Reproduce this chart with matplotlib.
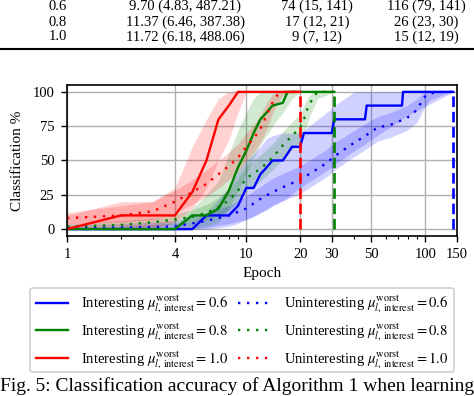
import matplotlib
matplotlib.use("Agg")
import matplotlib.pyplot as plt
from matplotlib.lines import Line2D
from matplotlib.patches import FancyBboxPatch
from matplotlib.ticker import FixedLocator, FixedFormatter, NullFormatter, LogLocator

plt.rcParams['font.family'] = ['Liberation Serif', 'DejaVu Serif']
plt.rcParams['mathtext.fontset'] = 'stix'

# ---------------- data ----------------
table_rows = [
    ["0.6", "9.70 (4.83, 487.21)", "74 (15, 141)", "116 (79, 141)"],
    ["0.8", "11.37 (6.46, 387.38)", "17 (12, 21)", "26 (23, 30)"],
    ["1.0", "11.72 (6.18, 488.06)", "9 (7, 12)", "15 (12, 19)"],
]
caption = "Fig. 5: Classification accuracy of Algorithm 1 when learning"

# Interesting, mu = 1.0 (red)
r_int_ep = [1, 2, 3, 4, 5, 6, 7, 8, 9, 10, 20]
r_int_med = [0, 10, 10, 10, 27, 50, 80, 90, 100, 100, 100]
r_int_lo = [0, 0, 0, 5, 15, 30, 50, 65, 85, 100, 100]
r_int_hi = [10, 20, 20, 30, 60, 80, 95, 100, 100, 100, 100]

# Uninteresting, mu = 1.0 (red dotted)
r_un_ep = [1, 2, 3, 4, 5, 6, 7, 8, 9, 10, 11, 12, 13, 14, 15, 16, 20]
r_un_med = [8, 10, 13, 20, 27, 33, 40, 46, 52, 60, 66, 73, 83, 92, 98, 100, 100]
r_un_lo = [4, 5, 7, 12, 18, 24, 30, 36, 42, 50, 56, 63, 73, 84, 92, 98, 100]
r_un_hi = [12, 17, 20, 28, 36, 43, 50, 56, 62, 70, 76, 83, 92, 98, 100, 100, 100]

# Interesting, mu = 0.8 (green)
g_int_ep = [1, 4, 5, 6, 7, 8, 9, 10, 11, 12, 13, 14, 16, 17, 18, 20, 31]
g_int_med = [0, 0, 10, 10, 15, 28, 45, 57, 70, 80, 85, 90, 92, 100, 100, 100, 100]
g_int_lo = [0, 0, 0, 2, 5, 15, 28, 40, 52, 62, 68, 75, 85, 90, 95, 100, 100]
g_int_hi = [0, 2, 15, 25, 35, 55, 72, 85, 95, 100, 100, 100, 100, 100, 100, 100, 100]

# Uninteresting, mu = 0.8 (green dotted)
g_un_ep = [1, 2, 3, 4, 5, 6, 7, 8, 9, 10, 12, 14, 16, 18, 20, 21, 22, 23, 24, 25, 31]
g_un_med = [2, 3, 5, 7, 9, 12, 16, 21, 28, 37, 44, 52, 61, 68, 74, 80, 88, 93, 97, 100, 100]
g_un_lo = [0, 1, 2, 3, 5, 7, 10, 14, 20, 28, 35, 43, 51, 58, 64, 70, 78, 85, 90, 95, 100]
g_un_hi = [4, 6, 8, 11, 14, 18, 23, 29, 37, 46, 54, 62, 71, 78, 84, 90, 96, 99, 100, 100, 100]

# Interesting, mu = 0.6 (blue)
b_int_ep = [1, 5, 6, 8, 9, 10, 11, 12, 13, 14, 16, 17, 18, 20, 21, 30, 31, 40, 46, 47, 74, 75, 143]
b_int_med = [0, 0, 10, 10, 17, 30, 30, 40, 45, 50, 50, 55, 60, 60, 70, 70, 80, 80, 80, 90, 90, 100, 100]
b_int_lo = [0, 0, 0, 2, 4, 7, 9, 12, 14, 17, 21, 23, 26, 30, 32, 45, 47, 57, 62, 63, 80, 81, 100]
b_int_hi = [0, 5, 12, 30, 42, 50, 55, 60, 66, 68, 70, 70, 70, 70, 72, 88, 90, 100, 100, 100, 100, 100, 100]

# Uninteresting, mu = 0.6 (blue dotted)
b_un_ep = [1, 2, 4, 6, 8, 10, 12, 14, 17, 20, 23, 28, 31, 38, 45, 54, 64, 79, 90, 98, 106, 126, 143]
b_un_med = [1, 1, 2, 6, 10, 15, 22, 27, 32, 36, 41, 48, 53, 61, 67, 74, 76, 81, 87, 96, 99, 100, 100]
b_un_lo = [0, 0, 0, 1, 4, 7, 12, 17, 22, 26, 31, 38, 43, 51, 57, 64, 67, 72, 78, 88, 94, 98, 100]
b_un_hi = [3, 4, 6, 12, 17, 24, 31, 37, 42, 46, 51, 58, 63, 70, 76, 82, 85, 90, 95, 100, 100, 100, 100]

finish_epochs = [20, 31, 143]
finish_colors = ['red', 'green', 'blue']

xticks = [1, 4, 10, 20, 30, 50, 100, 150]
yticks = [0, 25, 50, 75, 100]

mu_vals = ["0.6", "0.8", "1.0"]

# ---------------- figure ----------------
fig = plt.figure(figsize=(4.74, 3.96), dpi=100)
W, H = 474, 396

# table fragment
col_x = [58, 185, 317, 426]
row_base = [10, 25.5, 40.5]
for r, row in enumerate(table_rows):
    for c, txt in enumerate(row):
        fig.text(col_x[c] / W, 1 - row_base[r] / H, txt, ha='center', va='baseline', fontsize=10.5)
fig.add_artist(Line2D([0, 1], [1 - 49 / H, 1 - 49 / H], transform=fig.transFigure,
                      color='black', lw=1.5))

ax = fig.add_axes([67 / W, 1 - 236 / H, (457 - 67) / W, (236 - 85) / H])
ax.set_xscale('log')

dot = (0, (1, 2.8))
series = [
    ('blue', b_int_ep, b_int_med, b_int_lo, b_int_hi, '-'),
    ('blue', b_un_ep, b_un_med, b_un_lo, b_un_hi, dot),
    ('green', g_int_ep, g_int_med, g_int_lo, g_int_hi, '-'),
    ('green', g_un_ep, g_un_med, g_un_lo, g_un_hi, dot),
    ('red', r_int_ep, r_int_med, r_int_lo, r_int_hi, '-'),
    ('red', r_un_ep, r_un_med, r_un_lo, r_un_hi, dot),
]
for col, ep, med, lo, hi, ls in series:
    ax.fill_between(ep, lo, hi, color=col, alpha=0.18, lw=0)
for col, ep, med, lo, hi, ls in series:
    ax.plot(ep, med, color=col, ls=ls, lw=1.7)

for xe, col in zip(finish_epochs, finish_colors):
    ax.vlines(xe, 0, 100, colors=col, linestyles=(0, (4, 1.8)), lw=1.9)

ax.set_xlim(1, 150)
ax.set_ylim(-5, 105)
ax.xaxis.set_major_locator(FixedLocator(xticks))
ax.xaxis.set_major_formatter(FixedFormatter([str(t) for t in xticks]))
ax.xaxis.set_minor_locator(LogLocator(base=10, subs=range(2, 10)))
ax.xaxis.set_minor_formatter(NullFormatter())
ax.set_yticks(yticks)
ax.grid(True, which='major', color='#b0b0b0', lw=1)
ax.set_axisbelow(True)
ax.tick_params(axis='both', which='major', labelsize=10.5, length=4, width=1, pad=5)
ax.tick_params(axis='x', which='minor', length=2.5, width=0.8)
for s in ax.spines.values():
    s.set_linewidth(1.2)
ax.set_xlabel('Epoch', fontsize=11, labelpad=4)
ax.set_ylabel('Classification %', fontsize=11, labelpad=6)

# legend frame drawn separately
frame = FancyBboxPatch((30 / W, 1 - 372 / H), 424 / W, 84 / H,
                       boxstyle='round,pad=0,rounding_size=0.006',
                       transform=fig.transFigure, facecolor='white',
                       edgecolor='#c8c8c8', lw=1.0, zorder=3)
fig.add_artist(frame)

handles, labels = [], []
for col, m in zip(['blue', 'green', 'red'], mu_vals):
    handles.append(Line2D([], [], color=col, lw=1.7, ls='-'))
    labels.append(r'Interesting $\mu^{\mathrm{worst}}_{l,\,\mathrm{interest}} = ' + m + '$')
for col, m in zip(['blue', 'green', 'red'], mu_vals):
    handles.append(Line2D([], [], color=col, lw=1.7, ls=dot))
    labels.append(r'Uninteresting $\mu^{\mathrm{worst}}_{l,\,\mathrm{interest}} = ' + m + '$')
leg = fig.legend(handles, labels, ncol=2, loc='upper left',
                 bbox_to_anchor=(30 / W, 1 - 288 / H),
                 fontsize=10.5, handlelength=2.2, columnspacing=0.7, handletextpad=0.9,
                 labelspacing=0.42, borderpad=0.4, borderaxespad=0.0, frameon=False)
leg.set_zorder(4)

# caption
fig.text(0.0, 1 - 391 / H, caption, ha='left', va='baseline', fontsize=14)

fig.savefig('out.png', dpi=100)
